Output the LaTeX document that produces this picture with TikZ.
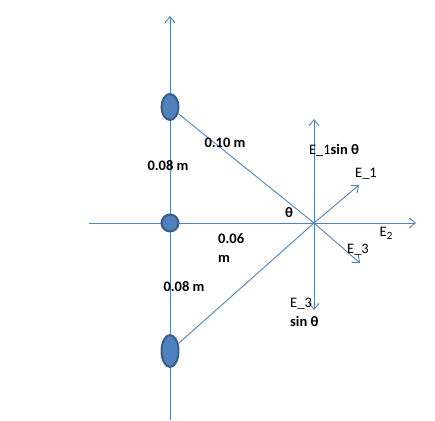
\documentclass[tikz,border=0pt]{standalone}
\usepackage{fontspec}
\setmainfont{Carlito}
\usetikzlibrary{arrows.meta,shapes.geometric}
\definecolor{axisblue}{RGB}{79,129,189}
\definecolor{fillblue}{RGB}{79,129,189}
\definecolor{edgeblue}{RGB}{56,93,138}
\tikzset{
  axisline/.style={draw=axisblue, line width=0.9pt},
  vecarrow/.style={axisline, -{Straight Barb[length=6pt,width=10pt,line width=0.9pt]}},
  charge/.style={ellipse, draw=edgeblue, fill=fillblue, line width=2pt, inner sep=0pt},
  lbl/.style={font=\fontsize{14.5}{15}\selectfont, inner sep=0pt, text=black},
  blbl/.style={lbl, font=\fontsize{14.5}{15}\selectfont\bfseries},
}
\begin{document}
\begin{tikzpicture}[x=1pt,y=-1pt]
\useasboundingbox (0,0) rectangle (435,420);
% coordinates
\coordinate (O) at (314,223);
\coordinate (vbot) at (170,420);
\coordinate (vtop) at (170,16);
\coordinate (hleft) at (89,223);
\coordinate (hright) at (416,223);
\coordinate (up) at (314,119);
\coordinate (down) at (314,310);
\coordinate (e1) at (359,185);
\coordinate (e3) at (360,263);
% axes
\draw[vecarrow] (vbot) -- (vtop);
\draw[vecarrow] (hleft) -- (hright);
% charges
\node[charge, minimum width=17pt, minimum height=26pt] (qtop) at (170,107) {};
\node[charge, minimum width=17pt, minimum height=17pt] (qmid) at (170,223) {};
\node[charge, minimum width=17pt, minimum height=32pt] (qbot) at (170,351) {};
% lines to point
\draw[axisline] (qtop) -- (O);
\draw[axisline] (qbot) -- (O);
% component vectors
\draw[vecarrow] (O) -- (up);
\draw[vecarrow] (O) -- (down);
\draw[vecarrow] (O) -- (e1);
\draw[vecarrow] (O) -- (e3);
% labels
\node[blbl] (l010) at (225,143) {0.10 m};
\node[blbl] (l008a) at (168,166) {0.08 m};
\node[blbl, align=left, anchor=west] (l006) at (218,248) {0.06\\[4pt]m};
\node[blbl] (l008b) at (184,287) {0.08 m};
\node[lbl] (le1s) at (334,150) {E\_1\textbf{sin θ}};
\node[lbl] (le1) at (366,174) {E\_1};
\node[lbl] (le2) at (386,233) {E\raisebox{-3pt}{\fontsize{11}{11}\selectfont 2}};
\node[blbl] (lth) at (289,213) {θ};
\node[lbl] (le3) at (358,250) {E\_3};
\node[lbl, align=left, anchor=west] (le3s) at (290,312) {E\_3\\[4pt]\textbf{sin θ}};
\end{tikzpicture}
\end{document}
